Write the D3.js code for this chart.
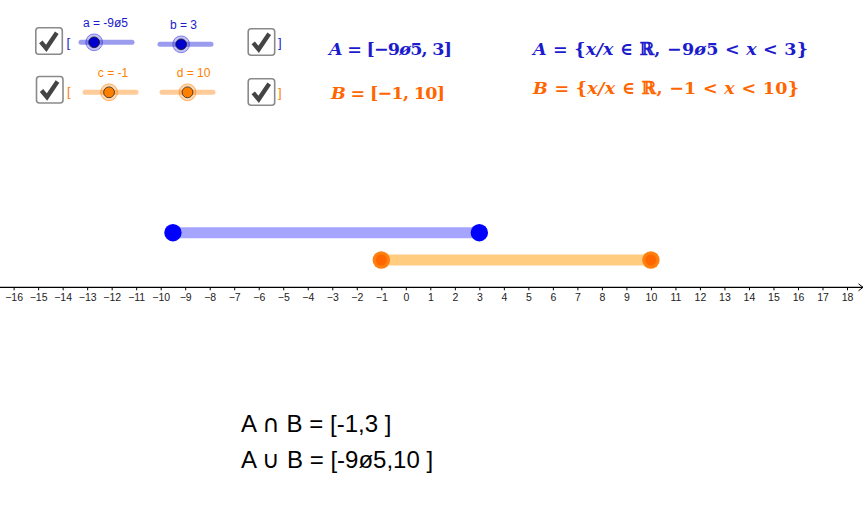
<!DOCTYPE html>
<html>
<head>
<meta charset="utf-8">
<script src="https://cdn.jsdelivr.net/npm/d3@7"></script>
<style>
  html, body { margin: 0; padding: 0; background: #fff; }
  svg { display: block; }
  text { font-family: "Liberation Sans", Arial, sans-serif; }
  .math { font-family: "DejaVu Serif", serif; font-weight: bold; font-size: 17.5px; }
  .sum { font-size: 24px; fill: #000; }
</style>
</head>
<body>
<svg id="main-svg" width="865" height="519"></svg>
<script>
(function() {

    var ORANGE = "#ff6600";

    // axis
    var axisTicks = d3.range(-16, 19);

    // intervals
    var segNames = ["A", "B"];
    var segStart = [-9.5, -1];
    var segEnd = [3, 10];

    // sliders: name, shown value, slider range
    var sliderNames = ["a", "b", "c", "d"];
    var sliderLabels = ["a = -9ø5", "b = 3", "c = -1", "d = 10"];
    var sliderValues = [-9.5, 3, -1, 10];
    var sliderMin = [-15, -5, -10, 0];
    var sliderMax = [5, 14, 9, 20];

    var svg = d3.select("#main-svg");
    var x = d3.scaleLinear().domain([0, 18]).range([405.8, 847]);

    // number line
    var axisY = 287.3;
    var axis = d3.axisBottom(x)
        .tickValues(axisTicks)
        .tickSize(3)
        .tickPadding(3)
        .tickFormat(function(d) { return d3.format("d")(d); });

    var axisG = svg.append("g")
        .attr("transform", "translate(0," + axisY + ")")
        .call(axis);
    axisG.select(".domain").remove();
    axisG.selectAll("text")
        .style("font-family", "'Liberation Sans', Arial, sans-serif")
        .style("font-size", "10.5px")
        .attr("fill", "#222");
    axisG.selectAll("line").attr("stroke", "#000");

    svg.append("line")
        .attr("x1", 0).attr("x2", 863)
        .attr("y1", axisY).attr("y2", axisY)
        .attr("stroke", "#000").attr("stroke-width", 1.2);
    svg.append("path")
        .attr("d", "M858.5," + (axisY - 3.5) + "L863," + axisY + "L858.5," + (axisY + 3.5))
        .attr("fill", "none").attr("stroke", "#000").attr("stroke-width", 1);

    // interval bars with end points
    var segY = d3.scalePoint().domain(segNames).range([232.7, 260]);
    var segFill = { A: "#a5a5ff", B: "#ffcc80" };
    var dotFill = { A: "#0000ff", B: "#ff7f0f" };
    var dotInner = { A: "#0000ff", B: "#ff6600" };

    segNames.forEach(function(name, i) {
        var g = svg.append("g").classed("segment", true);
        g.append("line")
            .attr("x1", x(segStart[i])).attr("x2", x(segEnd[i]))
            .attr("y1", segY(name)).attr("y2", segY(name))
            .attr("stroke", segFill[name]).attr("stroke-width", 11);
        [segStart[i], segEnd[i]].forEach(function(v) {
            g.append("circle")
                .attr("cx", x(v)).attr("cy", segY(name)).attr("r", 8.7)
                .attr("fill", dotFill[name]);
            g.append("circle")
                .attr("cx", x(v)).attr("cy", segY(name)).attr("r", 5.5)
                .attr("fill", dotInner[name]);
        });
    });

    // sliders
    var sliderX = [79, 158, 83, 160];
    var sliderY = [42.3, 44.3, 92.3, 92.3];
    var labelX = [105.5, 183.5, 113, 193.5];
    var labelY = [27, 29, 77, 77];
    var sliderLen = 55;
    var trackCol = ["#9c9cee", "#9c9cee", "#ffcc99", "#ffcc99"];
    var haloCol = ["#3333dd", "#3333dd", "#ff8000", "#ff8000"];
    var knobCol = ["#0000cc", "#0000cc", "#ff8000", "#ff8000"];
    var labelCol = ["#1a1acc", "#1a1acc", "#ff8000", "#ff8000"];

    sliderNames.forEach(function(name, i) {
        var s = d3.scaleLinear()
            .domain([sliderMin[i], sliderMax[i]])
            .range([sliderX[i], sliderX[i] + sliderLen]);
        var g = svg.append("g").attr("id", "slider-" + name);
        g.append("line")
            .attr("x1", s.range()[0] + 2).attr("x2", s.range()[1] - 2)
            .attr("y1", sliderY[i]).attr("y2", sliderY[i])
            .attr("stroke", trackCol[i]).attr("stroke-width", 5)
            .attr("stroke-linecap", "round");
        g.append("circle")
            .attr("cx", s(sliderValues[i])).attr("cy", sliderY[i]).attr("r", 8.4)
            .attr("fill", haloCol[i]).attr("fill-opacity", 0.3)
            .attr("stroke", haloCol[i]).attr("stroke-opacity", 0.55).attr("stroke-width", 1);
        g.append("circle")
            .attr("cx", s(sliderValues[i])).attr("cy", sliderY[i]).attr("r", 5.4)
            .attr("fill", knobCol[i]).attr("stroke", "#111").attr("stroke-width", 0.7);
        g.append("text")
            .attr("x", labelX[i]).attr("y", labelY[i])
            .attr("text-anchor", "middle")
            .attr("font-size", 12)
            .attr("fill", labelCol[i])
            .text(sliderLabels[i]);
    });

    // check boxes
    var boxX = [35.3, 247.7, 36, 247.7];
    var boxY = [27.3, 28.3, 76, 78.3];
    boxX.forEach(function(bx, i) {
        var g = svg.append("g").attr("transform", "translate(" + bx + "," + boxY[i] + ")");
        g.append("rect")
            .attr("x", 0.5).attr("y", 0.5)
            .attr("width", 26.5).attr("height", 26.5).attr("rx", 3)
            .attr("fill", "#fff").attr("stroke", "#8a8a8a").attr("stroke-width", 1.6);
        g.append("path")
            .attr("d", "M5.5,14.5L11,21L21.5,5.5")
            .attr("fill", "none").attr("stroke", "#444").attr("stroke-width", 4.4);
    });

    // small brackets beside the sliders
    var bracketText = ["[", "]", "[", "]"];
    var bracketX = [66.5, 278, 67, 278];
    var bracketY = [47, 47, 96, 97];
    var bracketCol = ["#1a1acc", "#1a1acc", "#ff8000", "#ff8000"];
    bracketText.forEach(function(t, i) {
        svg.append("text")
            .attr("x", bracketX[i]).attr("y", bracketY[i])
            .attr("font-size", 13).attr("fill", bracketCol[i]).text(t);
    });

    // math labels, each piece is [text, italic]
    var mathLines = [
        { x: 329, y: 54.5, w: 123, col: "#1c1ccc", parts: [["A", 1], [" = [−9", 0], ["ø", 1], ["5, 3]", 0]] },
        { x: 533, y: 54.5, w: 275, col: "#1c1ccc", parts: [["A", 1], [" = {", 0], ["x/x", 1], [" ∈ ℝ, −9", 0], ["ø", 1], ["5 < ", 0], ["x", 1], [" < 3}", 0]] },
        { x: 331, y: 98.5, w: 114, col: ORANGE, parts: [["B", 1], [" = [−1, 10]", 0]] },
        { x: 533, y: 94, w: 266, col: ORANGE, parts: [["B", 1], [" = {", 0], ["x/x", 1], [" ∈ ℝ, −1 < ", 0], ["x", 1], [" < 10}", 0]] }
    ];
    mathLines.forEach(function(m) {
        var t = svg.append("text")
            .classed("math", true)
            .attr("x", m.x).attr("y", m.y)
            .attr("fill", m.col)
            .attr("textLength", m.w)
            .attr("xml:space", "preserve")
            .style("white-space", "pre");
        m.parts.forEach(function(p) {
            t.append("tspan")
                .attr("font-style", p[1] ? "italic" : "normal")
                .text(p[0]);
        });
    });

    // intersection and union
    var sumParts = [["A ", "∩", " B = [-1,3 ]"], ["A ", "∪", " B = [-9ø5,10 ]"]];
    var sumFont = ["'DejaVu Sans'", "'Liberation Sans'"];
    var sumY = [432, 468];
    sumParts.forEach(function(s, i) {
        var t = svg.append("text").classed("sum", true)
            .attr("x", 241).attr("y", sumY[i])
            .style("white-space", "pre");
        t.append("tspan").text(s[0]);
        t.append("tspan").style("font-family", sumFont[i]).text(s[1]);
        t.append("tspan").text(s[2]);
    });
})();
</script>
</body>
</html>
